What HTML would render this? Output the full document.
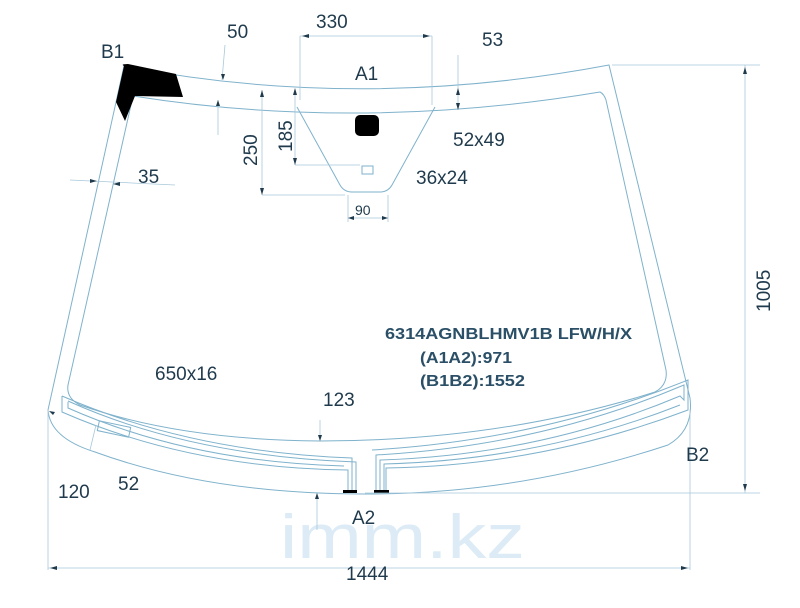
<!DOCTYPE html>
<html><head><meta charset="utf-8"><style>
html,body{margin:0;padding:0;background:#fff;width:800px;height:608px;overflow:hidden}
svg{display:block}
text{font-family:"Liberation Sans",sans-serif;fill:#1f3a4c}
</style></head><body>
<svg width="800" height="608" viewBox="0 0 800 608" xmlns="http://www.w3.org/2000/svg">
<!-- watermark -->
<text x="280" y="558" font-size="62" textLength="245" lengthAdjust="spacingAndGlyphs" style="fill:#dcebf5">imm.kz</text>
<g fill="none" stroke="#7fb2cc" stroke-width="1">
<path d="M124,66 Q360,112 609,65 L690,398 Q694,430 668,445 Q520,494 365,494 Q210,494 95,452 Q50,438 48,410 Z"/>
<path d="M133,96 Q360,132 600,92 Q604,94 606,100 L666,370 Q668,385 655,392 Q500,441 320,441 Q180,440 80,405 Q66,398 68,385 Z"/>
<path d="M297,107 L340,185 Q344,192 352,192 L380,192 Q388,192 392,185 L435,107"/>
<path d="M62,396 Q190,452 352,458 L352,492"/>
<path d="M68,401 Q190,456 356,462 L356,492"/>
<path d="M62,396 L62,412 Q190,468 348,470 L348,492"/>
<path d="M68,402 L68,408 Q190,462 344,466"/>
<path d="M380,492 L380,460 Q540,455 680,396 L684,400 L684,385 Q540,446 376,455 L376,492"/>
<path d="M384,492 L384,464 Q540,460 680,405"/>
<path d="M386,492 L386,468 Q540,466 688,410 L688,380 Q540,440 372,450"/>
<rect x="98" y="424" width="32" height="10" transform="rotate(12 114 429)"/>
<rect x="362" y="166" width="11" height="8"/>
</g>
<path d="M124,66 Q120,64 128,64 L176,74 L183,97 L135,96 L125,121 L116,102 Z" fill="#000"/>
<rect x="355" y="115" width="24" height="21" rx="5" fill="#000"/>
<rect x="343" y="490" width="14" height="3" fill="#000"/>
<rect x="374" y="490" width="15" height="3" fill="#000"/>
<g stroke="#a8c8da" stroke-width="0.8" fill="none">
<line x1="300" y1="36" x2="432" y2="36"/>
<line x1="300" y1="36" x2="300" y2="100"/>
<line x1="432" y1="36" x2="432" y2="105"/>
<line x1="225" y1="45" x2="222" y2="80"/>
<line x1="218" y1="100" x2="218" y2="135"/>
<line x1="262" y1="90" x2="262" y2="195"/>
<line x1="295" y1="90" x2="295" y2="165"/>
<line x1="262" y1="195" x2="345" y2="195"/>
<line x1="295" y1="165" x2="360" y2="165"/>
<line x1="458" y1="55" x2="458" y2="110"/>
<line x1="70" y1="180" x2="175" y2="185"/>
<line x1="348" y1="195" x2="348" y2="222"/>
<line x1="388" y1="195" x2="388" y2="222"/>
<line x1="348" y1="218" x2="388" y2="218"/>
<line x1="612" y1="65" x2="760" y2="65"/>
<line x1="745" y1="65" x2="745" y2="493"/>
<line x1="365" y1="493" x2="760" y2="493"/>
<line x1="48" y1="410" x2="48" y2="570"/>
<line x1="48" y1="568" x2="690" y2="568"/>
<line x1="690" y1="410" x2="690" y2="570"/>
<line x1="320" y1="420" x2="320" y2="441"/>
<line x1="317" y1="493" x2="317" y2="530"/>
<line x1="96" y1="425" x2="90" y2="450"/>
</g>
<g fill="#1f3a4c">
<path d="M302,36 l7,-2 v4z"/><path d="M430,36 l-7,-2 v4z"/>
<path d="M223,80 l-2,-6 h4z"/><path d="M218,100 l-2,6 h4z"/>
<path d="M262,90 l-2,7 h4z"/><path d="M262,195 l-2,-7 h4z"/>
<path d="M295,88 l-2,7 h4z"/><path d="M295,165 l-2,-7 h4z"/>
<path d="M458,88 l-2,7 h4z"/><path d="M458,110 l-2,-7 h4z"/>
<path d="M97,181 l-7,-2 v4z"/><path d="M113,184 l7,-2 v4z"/>
<path d="M348,218 l6,-2 v4z"/><path d="M388,218 l-6,-2 v4z"/>
<path d="M745,67 l-2,7 h4z"/><path d="M745,491 l-2,-7 h4z"/>
<path d="M50,568 l7,-2 v4z"/><path d="M688,568 l-7,-2 v4z"/>
<path d="M320,441 l-2,-6 h4z"/><path d="M317,493 l-2,6 h4z"/>
<path d="M49,411 l6,1 l-2,3z"/>
</g>
<text x="101" y="58" font-size="19">B1</text>
<text x="227" y="38" font-size="19">50</text>
<text x="316" y="28" font-size="19">330</text>
<text x="482" y="46" font-size="19">53</text>
<text x="355" y="80" font-size="19">A1</text>
<text x="453" y="146" font-size="19">52x49</text>
<text x="416" y="184" font-size="19">36x24</text>
<text x="138" y="183" font-size="19">35</text>
<text x="355" y="215" font-size="14">90</text>
<text transform="translate(257,166) rotate(-90)" font-size="19">250</text>
<text transform="translate(292,152) rotate(-90)" font-size="19">185</text>
<text transform="translate(770,312) rotate(-90)" font-size="19">1005</text>
<text x="385" y="339" font-size="16" font-weight="bold" textLength="247" lengthAdjust="spacingAndGlyphs" style="fill:#2a4f66">6314AGNBLHMV1B LFW/H/X</text>
<text x="420" y="363" font-size="16" font-weight="bold" textLength="92" lengthAdjust="spacingAndGlyphs" style="fill:#2a4f66">(A1A2):971</text>
<text x="420" y="386" font-size="16" font-weight="bold" textLength="105" lengthAdjust="spacingAndGlyphs" style="fill:#2a4f66">(B1B2):1552</text>
<text x="155" y="380" font-size="19">650x16</text>
<text x="323" y="406" font-size="19">123</text>
<text x="686" y="461" font-size="19">B2</text>
<text x="58" y="498" font-size="19">120</text>
<text x="118" y="490" font-size="19">52</text>
<text x="352" y="524" font-size="19">A2</text>
<text x="346" y="580" font-size="19">1444</text>
</svg>
</body></html>
